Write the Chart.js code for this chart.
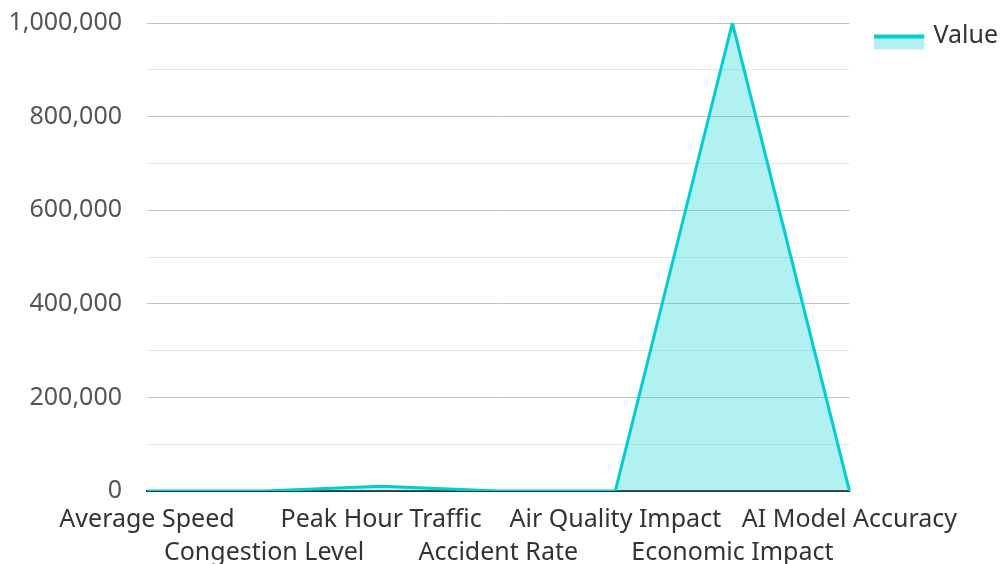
<!DOCTYPE html>
<html>
<head>
<meta charset="utf-8">
<script src="https://cdn.jsdelivr.net/npm/chart.js@4"></script>
<style>
  html, body { margin: 0; padding: 0; background: #fff; }
  #wrap { width: 1000px; height: 564px; }
</style>
</head>
<body>
<div id="wrap"><canvas id="c"></canvas></div>
<script>
const labels = [
  "Average Speed",
  "Congestion Level",
  "Peak Hour Traffic",
  "Accident Rate",
  "Air Quality Impact",
  "Economic Impact",
  "AI Model Accuracy",
];
const values = [45, 70, 10000, 3.2, 60, 1000000, 92];

const lineColor = "#00CED1";
const fillColor = "rgba(0, 206, 209, 0.3)";
const font = { family: "Noto Sans", size: 25, lineHeight: 1.32 };

// legend swatch: teal line on top of light fill (transparent margin to place it)
const swatch = document.createElement("canvas");
swatch.width = 62;
swatch.height = 30;
const sctx = swatch.getContext("2d");
sctx.fillStyle = fillColor;
sctx.fillRect(0, 14, 50, 15);
sctx.fillStyle = lineColor;
sctx.fillRect(0, 14, 50, 4);

new Chart(document.getElementById("c"), {
  type: "line",
  data: {
    labels: labels,
    datasets: [
      {
        label: "Value",
        data: values,
        borderColor: lineColor,
        backgroundColor: fillColor,
        borderWidth: 3,
        pointRadius: 0,
        pointStyle: swatch,
        fill: true,
        tension: 0,
      },
    ],
  },
  options: {
    responsive: true,
    maintainAspectRatio: false,
    animation: false,
    layout: { padding: { top: -17, right: -8, bottom: -17, left: 0 } },
    scales: {
      x: {
        grid: { display: false, drawTicks: false },
        border: { color: "#333", width: 2 },
        ticks: {
          color: "#333",
          font: font,
          maxRotation: 0,
          autoSkip: false,
          padding: 12,
          callback: (v, i) => (i % 2 === 0 ? [labels[i]] : ["", labels[i]]),
        },
      },
      y: {
        min: 0,
        max: 1000000,
        border: { display: false },
        afterFit: (scale) => {
          scale.width = 147;
          scale.paddingTop = 23;
        },
        grid: {
          color: (ctx) =>
            ctx.tick && ctx.tick.value % 200000 === 0 ? "#c4c4c4" : "#e6e6e6",
          drawTicks: false,
        },
        ticks: {
          stepSize: 100000,
          color: "#555",
          font: font,
          padding: 25,
          callback: (v) => (v % 200000 === 0 ? v.toLocaleString("en-US") : ""),
        },
      },
    },
    plugins: {
      legend: {
        position: "right",
        align: "start",
        labels: {
          font: font,
          color: "#333",
          usePointStyle: true,
          pointStyleWidth: 31.5,
          boxHeight: 15,
          padding: 40,
        },
      },
      tooltip: { enabled: false },
    },
  },
});
</script>
</body>
</html>
